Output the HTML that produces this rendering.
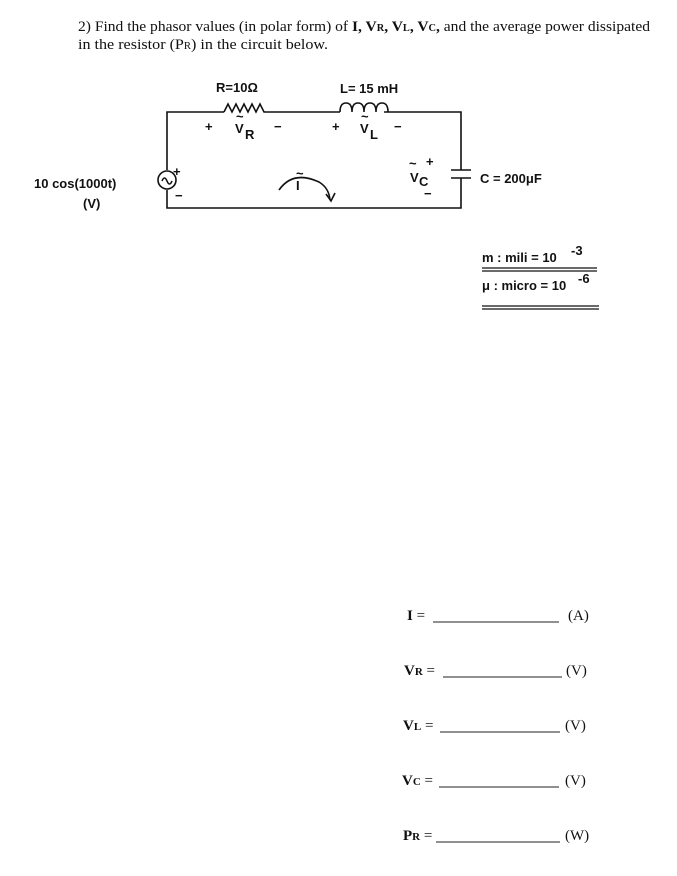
<!DOCTYPE html>
<html><head><meta charset="utf-8"><style>
html,body{margin:0;padding:0;background:#fff;}
svg{display:block}
.t{font-family:"Liberation Serif",serif;font-size:15px;fill:#111}
.h{font-family:"Liberation Sans",sans-serif;font-size:13px;fill:#111;font-weight:bold}
</style></head><body>
<svg width="677" height="876" viewBox="0 0 677 876" xmlns="http://www.w3.org/2000/svg">
<text class="t" x="78" y="31" textLength="572" lengthAdjust="spacingAndGlyphs">2) Find the phasor values (in polar form) of <tspan font-weight="bold">I, V<tspan font-size="10">R</tspan>, V<tspan font-size="10">L</tspan>, V<tspan font-size="10">C</tspan>,</tspan> and the average power dissipated</text>
<text class="t" x="78" y="49" textLength="250" lengthAdjust="spacingAndGlyphs">in the resistor (P<tspan font-size="10">R</tspan>) in the circuit below.</text>

<g stroke="#111" stroke-width="1.6" fill="none">
<path d="M167 170 V112 H224"/>
<path d="M272 112 H340 M384 112 H461 V170"/>
<path d="M461 178 V208 H167 V190"/>
<path d="M224 112 L228 104 L232 112 L236 104 L240 112 L244 104 L248 112 L252 104 L256 112 L260 104 L264 112 L272 112"/>
<path d="M340 112 q0 -9 6 -9 q6 0 6 9 q0 -9 6 -9 q6 0 6 9 q0 -9 6 -9 q6 0 6 9 q0 -9 6 -9 q6 0 6 9"/>
<path d="M451 170 H471 M451 178 H471"/>
<circle cx="167" cy="180" r="9"/>
<path d="M162 181 q2.5 -6 5 0 q2.5 6 5 0"/>
<path d="M279 190 q14 -20 40 -8 q10 6 11 18"/>
<path d="M326 194 L331 201 L335 193"/>
</g>
<text class="h" x="216" y="92">R=10Ω</text>
<text class="h" x="340" y="93" font-size="12">L= 15 mH</text>
<text class="h" x="205" y="131">+</text>
<text class="h" x="235" y="133">V</text><text class="h" x="245" y="139" font-size="9">R</text><text class="h" x="236" y="121">~</text>
<text class="h" x="274" y="131">−</text>
<text class="h" x="332" y="131">+</text>
<text class="h" x="360" y="133">V</text><text class="h" x="370" y="139" font-size="9">L</text><text class="h" x="361" y="121">~</text>
<text class="h" x="394" y="131">−</text>
<text class="h" x="409" y="168">~</text><text class="h" x="426" y="166">+</text>
<text class="h" x="410" y="182">V</text><text class="h" x="419" y="186" font-size="9">C</text>
<text class="h" x="424" y="198">−</text>
<text class="h" x="173" y="176">+</text>
<text class="h" x="175" y="200">−</text>
<text class="h" x="296" y="190">I</text><text class="h" x="296" y="178">~</text>
<text class="h" x="480" y="183">C = 200μF</text>
<text class="h" x="34" y="188" font-size="12">10 cos(1000t)</text>
<text class="h" x="83" y="208" font-size="12">(V)</text>

<text class="h" x="482" y="262">m : mili = 10</text><text class="h" x="571" y="255" font-size="11">-3</text>
<path d="M482 268 H597 M482 271 H597" stroke="#111" stroke-width="1.2"/>
<text class="h" x="482" y="290">μ : micro = 10</text><text class="h" x="578" y="283" font-size="11">-6</text>
<path d="M482 306 H599 M482 309 H599" stroke="#111" stroke-width="1.2"/>

<text class="t" x="407" y="620"><tspan font-weight="bold">I</tspan> =</text>
<text class="t" x="568" y="620">(A)</text>
<text class="t" x="404" y="675"><tspan font-weight="bold">V<tspan font-size="11">R</tspan></tspan> =</text>
<text class="t" x="566" y="675">(V)</text>
<text class="t" x="403" y="730"><tspan font-weight="bold">V<tspan font-size="11">L</tspan></tspan> =</text>
<text class="t" x="565" y="730">(V)</text>
<text class="t" x="402" y="785"><tspan font-weight="bold">V<tspan font-size="11">C</tspan></tspan> =</text>
<text class="t" x="565" y="785">(V)</text>
<text class="t" x="403" y="840"><tspan font-weight="bold">P<tspan font-size="11">R</tspan></tspan> =</text>
<text class="t" x="565" y="840">(W)</text>
<g stroke="#222" stroke-width="1">
<path d="M433 622 H559"/>
<path d="M443 677 H562"/>
<path d="M440 732 H560"/>
<path d="M439 787 H559"/>
<path d="M436 842 H560"/>
</g>
</svg>
</body></html>
